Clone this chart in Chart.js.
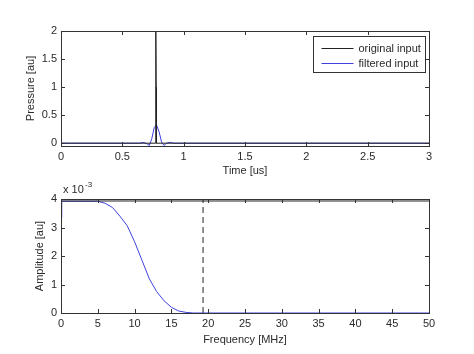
<!DOCTYPE html>
<html>
<head>
<meta charset="utf-8">
<script src="https://cdn.jsdelivr.net/npm/chart.js@4"></script>
<style>
  body { margin: 0; background: #fff; }
  .box { position: relative; width: 474px; height: 177px; }
</style>
</head>
<body>
<div class="box"><canvas id="timeChart" width="474" height="177"></canvas></div>
<div class="box"><canvas id="freqChart" width="474" height="177"></canvas></div>
<script>
// time domain (us)
const origTime = [0, 0.771, 0.773, 0.776, 0.778, 3];
const origPressure = [0, 0, 2, 1, 0, 0];
const filtTime = [0, 0.64, 0.67, 0.70, 0.72, 0.74, 0.76, 0.778, 0.80, 0.82, 0.84, 0.86, 0.89, 0.92, 3];
const filtPressure = [0, 0, 0.015, -0.01, -0.04, 0.08, 0.28, 0.33, 0.2, 0.02, -0.04, 0, 0.015, 0, 0];
const timeTicks = [0, 0.5, 1, 1.5, 2, 2.5, 3];
const pressureTicks = [0, 0.5, 1, 1.5, 2];

// frequency domain (MHz), amplitude in units of 1e-3
const origFreq = [0, 50];
const origAmp = [3.93, 3.93];
const filtFreq = [0, 0.1, 1, 2, 3, 4, 5, 6, 7, 8, 9, 10, 11, 12, 13, 14, 15, 16, 17, 18, 50];
const filtAmp = [3.35, 3.92, 3.92, 3.92, 3.92, 3.92, 3.92, 3.85, 3.7, 3.4, 3.06, 2.5, 1.85, 1.2, 0.75, 0.43, 0.2, 0.07, 0.02, 0, 0];
const cutoffFreq = 19.3;
const freqTicks = [0, 5, 10, 15, 20, 25, 30, 35, 40, 45, 50];
const ampTicks = [0, 1, 2, 3, 4];

const FONT = { family: 'Liberation Sans, Arial, sans-serif', size: 11 };
const TEXT = '#2a2a2a';
const AXIS = '#333';
const BLUE = '#4040e0';

const toPoints = (xs, ys) => xs.map((x, i) => ({ x: x, y: ys[i] }));

// matlab style box with inward ticks
const boxPlugin = {
    id: 'box',
    afterDraw(chart) {
        const ctx = chart.ctx;
        const a = chart.chartArea;
        const len = 4;
        ctx.save();
        ctx.strokeStyle = AXIS;
        ctx.lineWidth = 1;
        ctx.beginPath();
        chart.scales.x.ticks.forEach(t => {
            const px = Math.round(chart.scales.x.getPixelForValue(t.value)) + 0.5;
            ctx.moveTo(px, a.bottom); ctx.lineTo(px, a.bottom - len);
            ctx.moveTo(px, a.top); ctx.lineTo(px, a.top + len);
        });
        chart.scales.y.ticks.forEach(t => {
            const py = Math.round(chart.scales.y.getPixelForValue(t.value)) + 0.5;
            ctx.moveTo(a.left, py); ctx.lineTo(a.left + len, py);
            ctx.moveTo(a.right, py); ctx.lineTo(a.right - len, py);
        });
        ctx.stroke();
        ctx.strokeRect(Math.round(a.left) + 0.5, Math.round(a.top) + 0.5,
            Math.round(a.right - a.left), Math.round(a.bottom - a.top));
        ctx.restore();
    }
};

const legendPlugin = {
    id: 'boxLegend',
    afterDraw(chart) {
        const ctx = chart.ctx;
        const x0 = 313.5, y0 = 36.5, w = 112, h = 36;
        ctx.save();
        ctx.fillStyle = '#fff';
        ctx.fillRect(x0, y0, w, h);
        ctx.strokeStyle = AXIS;
        ctx.strokeRect(x0, y0, w, h);
        ctx.font = '11px ' + FONT.family;
        ctx.textBaseline = 'middle';
        chart.data.datasets.forEach((ds, i) => {
            const y = Math.round(y0 + 11 + i * 15) + 0.5;
            ctx.strokeStyle = ds.borderColor;
            ctx.beginPath();
            ctx.moveTo(x0 + 8, y); ctx.lineTo(x0 + 40, y);
            ctx.stroke();
            ctx.fillStyle = TEXT;
            ctx.fillText(ds.label, x0 + 45, y);
        });
        ctx.restore();
    }
};

const exponentPlugin = {
    id: 'exponent',
    afterDraw(chart) {
        const ctx = chart.ctx;
        const a = chart.chartArea;
        ctx.save();
        ctx.fillStyle = TEXT;
        ctx.font = '11px ' + FONT.family;
        ctx.textBaseline = 'alphabetic';
        ctx.fillText('x 10', a.left + 2, a.top - 6);
        ctx.font = '8px ' + FONT.family;
        ctx.fillText('-3', a.left + 24, a.top - 12);
        ctx.restore();
    }
};

function makeOptions(o) {
    const grid = { display: false, drawTicks: false };
    return {
        responsive: false,
        animation: false,
        layout: { padding: o.padding },
        plugins: { legend: { display: false }, tooltip: { enabled: false } },
        elements: { point: { radius: 0 }, line: { borderWidth: 1, tension: 0 } },
        scales: {
            x: {
                type: 'linear',
                min: o.xMin, max: o.xMax,
                grid: grid,
                border: { display: false },
                afterBuildTicks: s => { s.ticks = o.xTicks.map(v => ({ value: v })); },
                afterFit: s => { s.height = o.xHeight; },
                ticks: { font: FONT, color: TEXT, padding: 4, maxRotation: 0, autoSkip: false, callback: v => String(v) },
                title: { display: true, text: o.xTitle, font: FONT, color: TEXT, padding: { top: 0, bottom: -1 } }
            },
            y: {
                type: 'linear',
                min: o.yMin, max: o.yMax,
                grid: grid,
                border: { display: false },
                afterBuildTicks: s => { s.ticks = o.yTicks.map(v => ({ value: v })); },
                afterFit: s => { s.width = o.yWidth; },
                ticks: { font: FONT, color: TEXT, padding: 4, autoSkip: false, callback: v => String(v) },
                title: { display: true, text: o.yTitle, font: FONT, color: TEXT, padding: 0 }
            }
        }
    };
}

new Chart(document.getElementById('timeChart'), {
    type: 'line',
    data: {
        datasets: [
            { label: 'original input', data: toPoints(origTime, origPressure), borderColor: '#222' },
            { label: 'filtered input', data: toPoints(filtTime, filtPressure), borderColor: BLUE }
        ]
    },
    options: makeOptions({
        padding: { top: 31, right: 45, left: 24, bottom: 0 },
        xMin: 0, xMax: 3, xTicks: timeTicks, xHeight: 31, xTitle: 'Time [us]',
        yMin: -0.05, yMax: 2, yTicks: pressureTicks, yWidth: 37, yTitle: 'Pressure [au]'
    }),
    plugins: [boxPlugin, legendPlugin]
});

new Chart(document.getElementById('freqChart'), {
    type: 'line',
    data: {
        datasets: [
            { label: 'original', data: toPoints(origFreq, origAmp), borderColor: '#222' },
            { label: 'filtered', data: toPoints(filtFreq, filtAmp), borderColor: BLUE },
            { label: 'cutoff', data: [{ x: cutoffFreq, y: 0 }, { x: cutoffFreq, y: 4 }], borderColor: '#222', borderDash: [6, 4] }
        ]
    },
    options: makeOptions({
        padding: { top: 22, right: 45, left: 33, bottom: 8 },
        xMin: 0, xMax: 50, xTicks: freqTicks, xHeight: 33, xTitle: 'Frequency [MHz]',
        yMin: 0, yMax: 4, yTicks: ampTicks, yWidth: 28, yTitle: 'Amplitude [au]'
    }),
    plugins: [boxPlugin, exponentPlugin]
});
</script>
</body>
</html>
